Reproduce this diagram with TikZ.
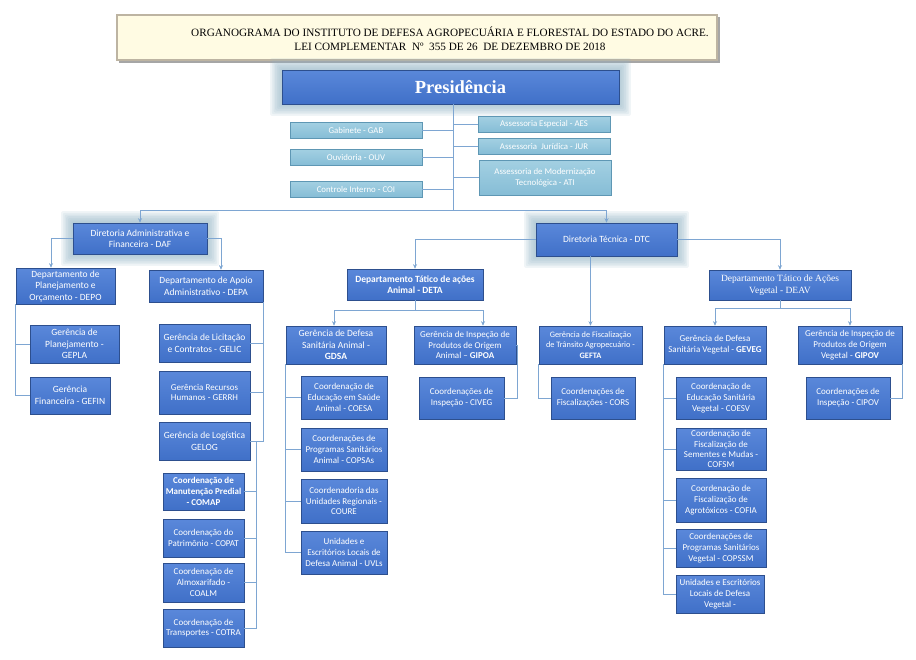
\documentclass[tikz,border=0pt]{standalone}
\usepackage{fontspec}
\usetikzlibrary{arrows.meta,shadows}
\newfontfamily\cf{Carlito}
\newfontfamily\serf{Liberation Serif}
\definecolor{boxtop}{HTML}{5A88DA}
\definecolor{boxbot}{HTML}{4070C8}
\definecolor{boxedge}{HTML}{2D4F8E}
\definecolor{ltop}{HTML}{A3D0E2}
\definecolor{lbot}{HTML}{86BDD6}
\definecolor{ledge}{HTML}{5E97B4}
\definecolor{lineblue}{HTML}{7EA6D2}
\definecolor{glowc}{HTML}{8FB3C6}
\definecolor{cream}{HTML}{FFFBE3}
\definecolor{creamedge}{HTML}{BDB4A2}
\tikzset{
  bx/.style={draw=boxedge, line width=0.6pt, top color=boxtop, bottom color=boxbot,
    text=white, font=\cf\fontsize{9}{10.8}\selectfont, align=center, inner sep=1pt,
    drop shadow={opacity=0.35, shadow xshift=1.2pt, shadow yshift=-1.2pt}},
  bxl/.style={bx, font=\cf\fontsize{9.5}{11.5}\selectfont},
  bxs/.style={bx, font=\cf\fontsize{8.3}{10.8}\selectfont},
  lbx/.style={draw=ledge, line width=0.6pt, top color=ltop, bottom color=lbot,
    text=white, font=\cf\fontsize{8.8}{10.8}\selectfont, align=center, inner sep=1pt,
    drop shadow={opacity=0.35, shadow xshift=1.2pt, shadow yshift=-1.2pt}},
  presbox/.style={bx, font=\serf\bfseries\fontsize{18.5}{20}\selectfont},
  conn/.style={draw=lineblue, line width=0.75pt},
  arr/.style={conn, -{Stealth[length=4.5pt,width=4pt]}},
}
\newcommand\ob[7]{\node[#6,minimum width={(#4)-(#2)},minimum height={(#5)-(#3)}] (#1) at ({((#2)+(#4))/2},{((#3)+(#5))/2}) {#7};}
\newcommand\glowbox[4]{\foreach \i in {7,6,...,1}{\fill[glowc, opacity=0.13, rounded corners=2pt] ({#1-\i*1.7},{#2-\i*1.7}) rectangle ({#3+\i*1.7},{#4+\i*1.7});}}
\begin{document}
\begin{tikzpicture}[x=1pt,y=-1pt]
\fill[white] (0,0) rectangle (916,659);
\useasboundingbox (0,0) rectangle (916,659);
% title
\fill[black!35] (119,17) rectangle (720,63);
\node[draw=creamedge, line width=1.6pt, fill=cream, minimum width=600, minimum height=45, inner sep=0] (title) at (417,37.5) {};
\node[font=\serf\fontsize{11.2}{14}\selectfont, align=center, inner sep=0] (titletext) at (450,38.5)
  {ORGANOGRAMA DO INSTITUTO DE DEFESA AGROPECUÁRIA E FLORESTAL DO ESTADO DO ACRE.\\
   LEI COMPLEMENTAR\ \ Nº\ \ 355 DE 26\ \ DE DEZEMBRO DE 2018};
% glows
\glowbox{282}{70}{619}{104}
\glowbox{73}{223}{207}{254}
\glowbox{536}{223}{677}{256}
% presidency
\ob{pres}{282}{70}{619}{104}{presbox}{\hspace*{20pt}Presidência}
\ob{gab}{290}{122}{422}{138}{lbx}{Gabinete - GAB}
\ob{ouv}{290}{149}{422}{165}{lbx}{Ouvidoria - OUV}
\ob{coi}{290}{181}{422}{197}{lbx}{Controle Interno - COI}
\ob{aes}{478}{116}{610}{132}{lbx}{Assessoria Especial - AES}
\ob{jur}{478}{138}{610}{154}{lbx}{Assessoria\ \ Jurídica - JUR}
\ob{ati}{479}{160}{611}{195}{lbx}{Assessoria de Modernização\\Tecnológica - ATI}
% DAF side
\ob{daf}{73}{223}{207}{254}{bxl}{Diretoria Administrativa e\\Financeira - DAF}
\ob{depo}{16}{268}{115}{304}{bxl}{Departamento de\\Planejamento e\\Orçamento - DEPO}
\ob{depa}{149}{270}{263}{302}{bxl}{Departamento de Apoio\\Administrativo - DEPA}
\ob{gepla}{30}{325}{119}{363}{bxl}{Gerência de\\Planejamento -\\GEPLA}
\ob{gefin}{30}{377}{110}{414}{bxl}{Gerência\\Financeira - GEFIN}
\ob{gelic}{159}{324}{250}{362}{bxl}{Gerência de Licitação\\e Contratos - GELIC}
\ob{gerrh}{159}{371}{250}{414}{bx}{Gerência Recursos\\Humanos - GERRH}
\ob{gelog}{159}{422}{250}{460}{bxl}{Gerência de Logística\\GELOG}
\ob{comap}{163}{473}{244}{510}{bx}{\bfseries Coordenação de\\\bfseries Manutenção Predial\\\bfseries - COMAP}
\ob{copat}{163}{519}{244}{557}{bx}{Coordenação do\\Patrimônio - COPAT}
\ob{coalm}{163}{563}{244}{602}{bx}{Coordenação de\\Almoxarifado -\\COALM}
\ob{cotra}{163}{609}{244}{647}{bx}{Coordenação de\\Transportes - COTRA}
% DTC side
\ob{dtc}{536}{223}{677}{256}{bxl}{Diretoria Técnica - DTC}
\ob{deta}{347}{269}{483}{300}{bxl}{\bfseries Departamento Tático de ações\\\bfseries Animal - DETA}
\ob{gdsa}{286}{326}{386}{364}{bxl}{Gerência de Defesa\\Sanitária Animal -\\\textbf{GDSA}}
\ob{gipoa}{414}{326}{516}{364}{bx}{Gerência de Inspeção de\\Produtos de Origem\\Animal – \textbf{GIPOA}}
\ob{gefta}{539}{326}{642}{364}{bxs}{Gerência de Fiscalização\\de Trânsito Agropecuário -\\\textbf{GEFTA}}
\ob{civeg}{419}{377}{504}{419}{bx}{Coordenações de\\Inspeção - CIVEG}
\ob{cors}{551}{377}{635}{419}{bx}{Coordenações de\\Fiscalizações - CORS}
\ob{coesa}{301}{376}{387}{419}{bx}{Coordenação de\\Educação em Saúde\\Animal - COESA}
\ob{copsas}{301}{428}{387}{471}{bx}{Coordenações de\\Programas Sanitários\\Animal - COPSAs}
\ob{coure}{301}{479}{387}{523}{bx}{Coordenadoria das\\Unidades Regionais -\\COURE}
\ob{uvls}{301}{531}{387}{574}{bx}{Unidades e\\Escritórios Locais de\\Defesa Animal - UVLs}
\ob{deav}{709}{270}{851}{300}{bx,font=\serf\fontsize{9.5}{12}\selectfont}{Departamento Tático de Ações\\Vegetal - DEAV}
\ob{geveg}{664}{326}{766}{364}{bx}{Gerência de Defesa\\Sanitária Vegetal - \textbf{GEVEG}}
\ob{gipov}{798}{326}{902}{364}{bx}{Gerência de Inspeção de\\Produtos de Origem\\Vegetal - \textbf{GIPOV}}
\ob{cipov}{806}{377}{890}{419}{bx}{Coordenações de\\Inspeção - CIPOV}
\ob{coesv}{676}{377}{766}{419}{bx}{Coordenação de\\Educação Sanitária\\Vegetal - COESV}
\ob{cofsm}{676}{428}{766}{470}{bx,font=\cf\fontsize{9}{10.2}\selectfont}{Coordenação de\\Fiscalização de\\Sementes e Mudas -\\COFSM}
\ob{cofia}{676}{478}{766}{522}{bx}{Coordenação de\\Fiscalização de\\Agrotóxicos - COFIA}
\ob{copssm}{676}{529}{766}{567}{bx}{Coordenações de\\Programas Sanitários\\Vegetal - COPSSM}
\ob{uel}{676}{575}{764}{613}{bx}{Unidades e Escritórios\\Locais de Defesa\\Vegetal -}
% connectors
\coordinate (t0) at (453,104);
\coordinate (t1) at (453,210);
\draw[conn] (t0) -- (t1);
\foreach \n in {gab,ouv,coi,aes,jur,ati}{\draw[conn] (\n) -- (\n -| t0);}
\draw[arr] (t1) -| (daf.north);
\draw[arr] (t1) -| (dtc.north);
\draw[arr] (daf.west) -| ([xshift=-14.5pt]depo.north);
\draw[arr] (daf.east) -| ([xshift=15pt]depa.north);
\draw[conn] (depo.south west) |- (gepla.west);
\draw[conn] (depo.south west) |- (gefin.west);
\draw[conn] (depa.south east) |- (gelic.east);
\draw[conn] (depa.south east) |- (gerrh.east);
\draw[conn] (depa.south east) |- (gelog.east);
\coordinate (lg) at (256,441);
\foreach \n in {comap,copat,coalm,cotra}{\draw[conn] (lg) |- (\n.east);}
\draw[arr] (dtc.west) -| (deta.north);
\draw[arr] (dtc.east) -| (deav.north);
\draw[arr] (dtc.south -| gefta.north) -- (gefta.north);
\coordinate (d0) at (415,310);
\draw[conn] (deta.south) -- (d0);
\draw[arr] (d0) -| ([xshift=-2pt]gdsa.north);
\draw[arr] (d0) -| ([xshift=18pt]gipoa.north);
\foreach \n in {coesa,copsas,coure,uvls}{\draw[conn] (gdsa.south west) |- (\n.west);}
\draw[conn] (gipoa.east) -- ++(1,0) |- (civeg.east);
\draw[conn] (gefta.south west) |- (cors.west);
\coordinate (v0) at (780,308);
\draw[conn] (deav.south) -- (v0);
\draw[arr] (v0) -| (geveg.north);
\draw[arr] (v0) -| (gipov.north);
\foreach \n in {coesv,cofsm,cofia,copssm,uel}{\draw[conn] (geveg.south west) |- (\n.west);}
\draw[conn] (gipov.south east) |- (cipov.east);
\end{tikzpicture}
\end{document}
